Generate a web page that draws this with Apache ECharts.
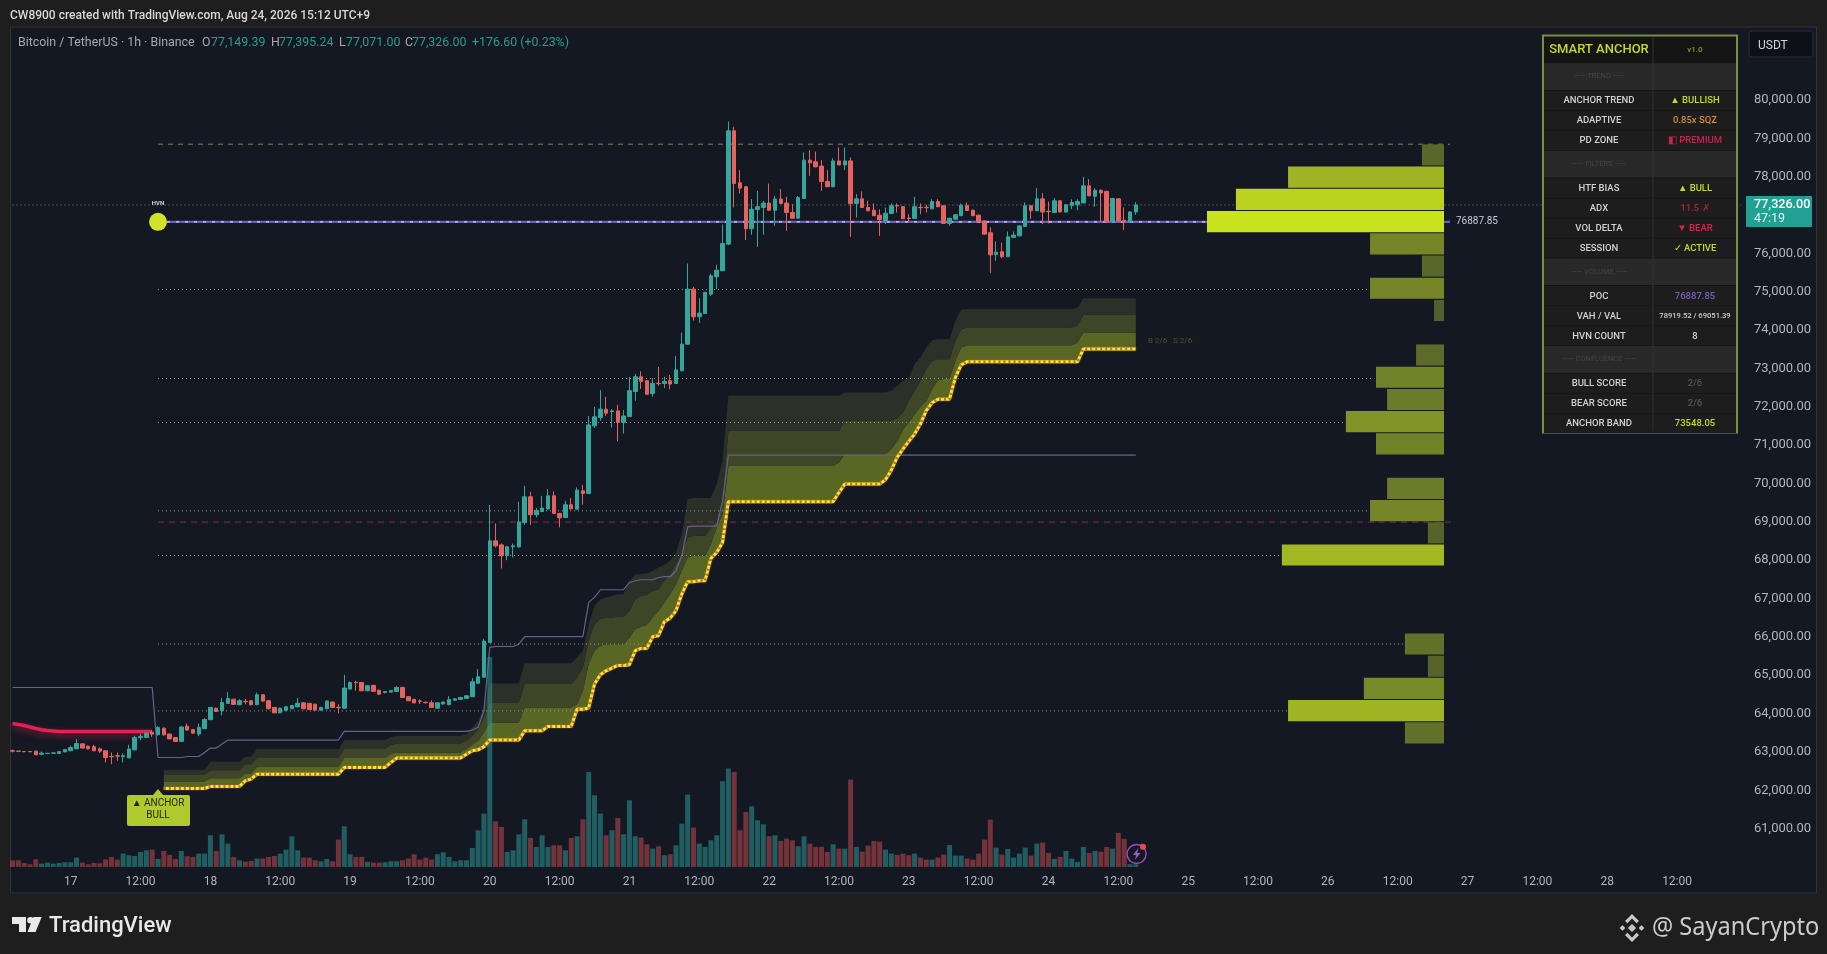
<!DOCTYPE html>
<html><head><meta charset="utf-8">
<style>html,body{margin:0;padding:0;background:#1e1e1e}#c{width:1827px;height:954px}</style>
<script src="https://cdn.jsdelivr.net/npm/echarts@6/dist/echarts.min.js"></script>
</head><body><div id="c"></div>
<script>
// hour index 0 = Aug 17 00:00; first candle is hour -10
const firstHour=-10, lastCategoryHour=287;
const dayLabels=['16','17','18','19','20','21','22','23','24','25','26','27','28'];
// [open, close, low, high]
const candles=[
[63030,63020,62985,63065],[63020,63015,63000,63030],[63010,63005,62995,63020],[63010,63005,62995,63020],[63020,62925,62925,63030],
[62940,62970,62915,63010],[62960,62965,62945,62975],[62965,62975,62955,62985],[62960,63010,62950,63020],[63000,63065,62990,63075],
[63030,63115,63020,63160],[63080,63220,63070,63335],[63210,63100,63090,63225],[63150,63080,63065,63165],[63135,63030,63020,63185],
[63080,63020,62975,63115],[63030,62855,62725,63045],[62885,62875,62680,62985],[62900,62890,62770,62985],[62875,62900,62725,62960],
[62845,63075,62835,63185],[63055,63375,63040,63420],[63370,63405,63305,63480],[63380,63490,63370,63510],[63510,63465,63395,63570],
[63450,63640,63430,63680],[63620,63445,63430,63640],[63465,63340,63330,63480],[63375,63275,63260,63390],[63275,63650,63260,63665],
[63670,63570,63555,63740],[63585,63490,63480,63600],[63465,63640,63410,63740],[63605,63845,63595,63880],[63840,64160,63830,64175],
[64140,64055,64040,64155],[64075,64290,63950,64405],[64265,64395,64255,64560],[64375,64240,64230,64385],[64230,64335,64220,64375],
[64320,64310,64245,64385],[64335,64230,64215,64345],[64230,64490,64220,64550],[64490,64325,64310,64500],[64335,64125,64110,64350],
[64160,64020,64005,64175],[64020,64140,64010,64155],[64090,64175,64055,64200],[64125,64210,64115,64225],[64175,64270,64165,64405],
[64280,64125,64110,64295],[64265,64105,64095,64280],[64245,64090,64080,64260],[64090,64160,64080,64175],[64125,64325,64115,64350],
[64300,64160,64150,64315],[64165,64155,64005,64245],[64140,64665,64130,65010],[64640,64810,64630,64840],[64815,64805,64595,64855],
[64810,64595,64585,64825],[64595,64725,64585,64740],[64735,64580,64570,64750],[64610,64505,64495,64620],[64550,64575,64530,64590],
[64560,64600,64550,64615],[64575,64680,64565,64720],[64680,64420,64410,64700],[64440,64335,64325,64450],[64370,64280,64270,64380],
[64330,64320,64250,64370],[64295,64285,64260,64310],[64280,64160,64150,64350],[64140,64280,64130,64295],[64250,64300,64235,64315],
[64230,64370,64220,64455],[64350,64385,64340,64400],[64370,64420,64360,64440],[64395,64465,64385,64480],[64440,64830,64430,64925],
[64790,64960,64780,65160],[64950,65890,64940,65950],[65855,68505,65855,69445],[68505,68375,68330,68960],[68400,68115,67785,68440],
[68115,68350,68000,68375],[68350,68375,68070,68435],[68350,69000,68330,69525],[68985,69655,68925,69940],[69655,69185,68925,69785],
[69185,69290,69115,69360],[69270,69360,69260,69680],[69335,69680,69325,69855],[69680,69220,69210,69795],[69220,69105,68855,69235],
[69115,69445,69105,69550],[69445,69340,69325,69620],[69330,69830,69320,69900],[69810,69740,69445,69965],[69740,71530,69730,71765],
[71505,71740,71450,72000],[71725,71940,71635,72435],[71940,71835,71765,72260],[71880,71895,71460,71940],[71895,71595,71100,72055],
[71595,71760,71305,71915],[71750,72420,71740,72785],[72400,72785,72160,72855],[72785,72665,72465,72925],[72680,72330,72320,72700],
[72350,72610,72265,72750],[72615,72605,72550,73045],[72610,72665,72490,72785],[72680,72595,72460,72830],[72610,72965,72600,73330],
[72940,73635,72930,73940],[73635,75070,73625,75740],[75070,74350,74250,75130],[74350,74445,74190,74835],[74435,74985,74425,75000],
[74940,75420,74895,75475],[75390,75565,75070,75705],[75550,76260,75540,76760],[76245,79200,76220,79440],[79200,77825,77200,79305],
[77845,77705,77565,78175],[77740,76645,76350,77760],[76645,77155,76490,77420],[77150,77220,76175,77635],[77200,77315,76490,77375],
[77315,77130,77115,77825],[77130,77420,76720,77505],[77420,77305,77295,77680],[77315,77070,76590,77480],[77070,76920,76910,77285],
[76920,77460,76910,77500],[77435,78435,77425,78635],[78435,78365,78025,78695],[78390,78260,78250,78660],[78280,77880,77635,78435],
[77880,77740,77730,78175],[77740,78415,77730,78485],[78415,78310,78300,78765],[78310,78415,78175,78765],[78415,77305,76435,78505],
[77305,77425,76940,77550],[77425,77200,77190,77620],[77200,77115,77105,77375],[77130,76985,76975,77305],[77000,76885,76460,77150],
[76850,77050,76765,77200],[77045,77245,77035,77305],[77250,77240,77070,77305],[77220,76905,76895,77235],[76925,76915,76850,77025],
[76915,77220,76905,77480],[77205,77195,77025,77305],[77205,77195,77070,77270],[77165,77355,77155,77415],[77355,77220,77210,77415],
[77245,76785,76775,77260],[76785,76920,76720,76930],[76895,77010,76885,77020],[76985,77260,76975,77305],[77245,77120,77110,77330],
[77130,76985,76975,77145],[77000,76835,76825,77015],[76850,76505,76495,76865],[76540,75965,75495,76680],[75975,76035,75810,76315],
[76045,75915,75880,76285],[75915,76435,75905,76575],[76420,76480,76410,76575],[76460,76720,76450,76735],[76705,77245,76695,77330],
[77245,77115,76895,77260],[77115,77425,77105,77705],[77425,77085,76765,77575],[77100,77090,76785,77355],[77070,77375,77060,77445],
[77375,77085,77075,77390],[77080,77270,77070,77285],[77250,77330,77155,77415],[77270,77355,77130,77415],[77320,77765,77310,78000],
[77765,77505,77495,77940],[77495,77650,77215,77705],[77650,77580,76835,77665],[77620,76825,76815,77640],[76825,77435,76815,77450],
[77425,76850,76840,77445],[76870,76820,76610,77200],[76820,77085,76810,77100],[77085,77265,77010,77335]];
const volumes=[20,20,12,8,23,10,13,10,12,14,
14,28,13,8,12,11,23,30,22,40,
35,33,45,50,52,24,48,36,24,48,
32,30,40,40,95,48,98,70,30,20,
16,18,25,25,30,33,40,52,92,50,
28,28,20,17,24,17,82,122,38,30,
30,15,13,13,14,17,17,20,25,38,
22,28,22,38,44,30,17,20,20,57,
110,160,630,137,120,45,50,98,143,87,
60,95,60,65,65,50,87,92,143,285,
215,160,95,110,147,98,200,92,88,68,
55,62,35,38,65,130,217,118,70,60,
80,95,257,295,285,110,165,182,140,128,
92,95,78,85,80,62,92,70,60,60,
45,68,55,55,262,60,46,64,78,76,
52,40,36,40,35,40,28,22,22,28,
37,66,34,34,25,22,40,82,142,58,
37,54,28,40,58,34,70,73,42,24,
30,48,25,15,60,42,48,46,60,55,
102,84,8,8];
// step lines: [start hour, value held until next step]
const anchorSteps=[[16,62045],[24,62100],[30,62245],[31,62290],[32,62420],[47,62595],[55,62720],[56,62840],[68,62940],[69,63030],[70,63055],[71,63135],[72,63310],[78,63550],[82,63665],[87,64115],[89,64145],[90,64770],[91,65010],[92,65115],[93,65185],[94,65255],[96,65275],[97,65640],[98,65700],[100,66005],[101,66030],[102,66395],[103,66490],[104,66680],[105,67115],[106,67440],[108,67465],[110,68045],[111,68200],[112,68465],[113,69525],[132,69765],[133,69985],[140,70100],[141,70350],[142,70680],[143,70900],[144,71100],[145,71290],[146,71550],[147,71900],[148,72105],[149,72200],[152,72765],[153,73095],[154,73175],[174,73510]];
const innerSteps=[[16,62230],[24,62315],[30,62440],[32,62620],[47,62840],[55,62950],[56,62985],[68,63075],[69,63185],[70,63290],[71,63510],[72,63770],[78,64160],[87,64245],[88,64595],[89,65290],[90,65640],[91,65770],[92,65810],[96,65985],[97,66205],[98,66265],[99,66315],[100,66505],[101,66680],[102,66900],[103,67115],[104,67375],[105,67725],[106,68070],[107,68115],[110,68420],[111,68855],[112,69200],[113,70460],[132,70550],[133,70765],[141,70900],[142,71100],[143,71400],[144,71600],[145,71800],[146,72000],[147,72150],[148,72460],[149,72695],[150,72725],[152,73200],[153,73550],[154,73610],[173,73680],[174,73940]];
const midSteps=[[16,62400],[24,62525],[30,62680],[32,62840],[47,63075],[55,63180],[56,63220],[68,63290],[69,63420],[70,63595],[71,63900],[72,64290],[78,64770],[87,64940],[88,65205],[89,65900],[90,66335],[91,66465],[92,66505],[94,66525],[96,66680],[97,66985],[98,67070],[99,67100],[100,67205],[101,67245],[102,67465],[103,67635],[104,67900],[105,68200],[106,68595],[107,68635],[110,68855],[111,69030],[112,69635],[113,71375],[133,71640],[142,71700],[143,71850],[144,72160],[145,72420],[146,72680],[147,72985],[148,73200],[149,73245],[152,73725],[153,74025],[154,74070],[173,74115],[174,74400]];
const outerSteps=[[16,62535],[24,62745],[30,62875],[32,63075],[47,63310],[55,63380],[56,63420],[68,63465],[69,63640],[70,63810],[71,64160],[72,64785],[78,65310],[87,65465],[88,65640],[89,66335],[90,66810],[91,66985],[92,67030],[93,67070],[94,67115],[96,67465],[97,67620],[98,67640],[99,67655],[100,67725],[101,67810],[102,67880],[103,67985],[104,68200],[105,68680],[106,69595],[107,69620],[111,69985],[112,70595],[113,72290],[133,72375],[141,72420],[142,72550],[143,72680],[144,72765],[145,73115],[146,73290],[147,73550],[148,73740],[149,73765],[152,74245],[153,74530],[154,74550],[173,74590],[174,74835]];
const purpleSteps=[[-10,64680],[15,62855],[20,62880],[23,62985],[24,63100],[26,63205],[27,63310],[47,63535],[69,63570],[70,63640],[71,64075],[72,65725],[73,65750],[77,65810],[78,66005],[89,66900],[90,67030],[91,67230],[96,67420],[97,67465],[98,67490],[101,67550],[102,67570],[104,67725],[105,68115],[106,68870],[107,68890],[112,69550],[113,70740]];
const redLineSteps=[[-10,63740],[-9,63715],[-8,63690],[-7,63650],[-6,63610],[-5,63580],[-4,63560],[-3,63545],[-2,63535],[-1,63530]];
const redLineEnd=14;
// levels: value, last hour drawn
const hvnLevels=[[75060,223],[72740,224],[71592,219],[69289,223],[68123,208],[65813,229],[64070,209]];
const vahLevel=[78852,237], valLevel=[68994,238], pocLevel=[76826,237];
const levelStart=15, lastPrice=77265, lastCandleHour=183;
// profile rows top to bottom, relative volume (POC = 100)
const profile=[9.3,65.8,87.8,100,31.2,9.3,31.2,4.2,null,11.8,28.7,24,41.4,28.7,null,24,31.2,6.8,68.4,null,null,null,16.5,6.8,33.8,65.8,16.5];
const priceAxisMin=60000, priceAxisMax=81000, volumeAxisMax=2415;

const panelRows=[
['SECTION','TREND'],['ANCHOR TREND','▲ BULLISH','#c4d92e'],['ADAPTIVE','0.85x SQZ','#d98c3a'],['PD ZONE','◧ PREMIUM','#c8234e'],
['SECTION','FILTERS'],['HTF BIAS','▲ BULL','#c4d92e'],['ADX','11.5 ✗','#a82342'],['VOL DELTA','▼ BEAR','#d8234e'],['SESSION','✓ ACTIVE','#c4d92e'],
['SECTION','VOLUME'],['POC','76887.85','#7560b8'],['VAH / VAL','78919.52 / 69051.39','#d0d0d0'],['HVN COUNT','8','#d0d0d0'],
['SECTION','CONFLUENCE'],['BULL SCORE','2/6','#555555'],['BEAR SCORE','2/6','#555555'],['ANCHOR BAND','73548.05','#c4d92e']];
const legendBits=[['Bitcoin / TetherUS · 1h · Binance',18,'#a6a9b2'],['O',202,'#a6a9b2'],['77,149.39',211,'#2b9c8e'],['H',271,'#a6a9b2'],['77,395.24',279,'#2b9c8e'],['L',339,'#a6a9b2'],['77,071.00',346,'#2b9c8e'],['C',405,'#a6a9b2'],['77,326.00',412,'#2b9c8e'],['+176.60 (+0.23%)',472,'#2b9c8e']];

const FONT='Roboto';
function expand(steps,end){const out=[];let k=0;
  for(let h=firstHour;h<=end;h++){
    if(h<steps[0][0]){out.push('-');continue;}
    while(k+1<steps.length&&steps[k+1][0]<=h)k++;
    out.push(steps[k][1]);}
  return out;}
const anchor=expand(anchorSteps,lastCandleHour),inner=expand(innerSteps,lastCandleHour),mid=expand(midSteps,lastCandleHour),outer=expand(outerSteps,lastCandleHour);
const diff=(a,b)=>a.map((v,i)=>v==='-'?'-':v-b[i]);
const purple=expand(purpleSteps,lastCandleHour), redLine=expand(redLineSteps,redLineEnd);
const cats=[];
for(let h=firstHour;h<=lastCategoryHour;h++){
  const d=Math.floor(h/24)+1, hh=((h%24)+24)%24;
  cats.push(dayLabels[d]+' '+String(hh).padStart(2,'0')+':00');}
const X=h=>h-firstHour;
function levelLine(lv,style,z){return {type:'line',data:[[X(levelStart),lv[0]],[X(lv[1]),lv[0]]],showSymbol:false,silent:true,lineStyle:style,z:z||2};}
const bandArea=(name,data,color)=>({type:'line',name,stack:'band',data,showSymbol:false,silent:true,lineStyle:{width:0},areaStyle:{color,opacity:1},z:1});

const series=[
 {type:'line',name:'base',stack:'band',data:anchor,showSymbol:false,silent:true,lineStyle:{width:0},z:1},
 bandArea('inner',diff(inner,anchor),'#5a6623'),
 bandArea('mid',diff(mid,inner),'#3e4627'),
 bandArea('outer',diff(outer,mid),'#2b3028'),
 {type:'line',name:'trail',data:purple,showSymbol:false,silent:true,lineStyle:{color:'#66628e',width:1.2},z:2},
 {type:'line',name:'ema',data:redLine,showSymbol:false,silent:true,lineStyle:{color:'#e8204f',width:3.5,shadowColor:'rgba(232,32,79,.55)',shadowBlur:7,shadowOffsetY:3},z:2},
 {type:'line',data:[[0,lastPrice],[cats.length-1,lastPrice]],showSymbol:false,silent:true,lineStyle:{color:'#828d92',width:1,type:[1,3]},z:2},
];
hvnLevels.forEach(l=>series.push(levelLine(l,{color:'#939a74',width:1,type:[1,3]})));
series.push(levelLine(vahLevel,{color:'#7e8a52',width:1,type:[5,5]}));
series.push(levelLine(valLevel,{color:'#8c2a48',width:1,type:[6,5]}));
series.push(levelLine(pocLevel,{color:'#6d5fb8',width:2.4},2));
series.push(levelLine([pocLevel[0],207],{color:'#d4d4de',width:1.4,type:[3,6]},3));
series.push({type:'bar',xAxisIndex:0,yAxisIndex:1,barWidth:5,z:3,silent:true,
  data:volumes.map((v,i)=>({value:v,itemStyle:{color:candles[i][1]>=candles[i][0]?'rgba(46,160,155,.52)':'rgba(226,80,85,.47)'}}))});
series.push({type:'candlestick',xAxisIndex:0,yAxisIndex:0,data:candles,barWidth:4,silent:true,z:4,
  itemStyle:{color:'#35a69c',color0:'#e5625f',borderColor:'#35a69c',borderColor0:'#e5625f',borderWidth:1}});
series.push({type:'line',name:'anchorLine',data:anchor,showSymbol:false,silent:true,lineStyle:{color:'#e8f034',width:3,shadowColor:'rgba(220,120,30,.6)',shadowBlur:2},z:5});
series.push({type:'line',name:'anchorDash',data:anchor,showSymbol:false,silent:true,lineStyle:{color:'#cf6a2a',width:3,type:[2,3]},z:5});
series.push({type:'scatter',data:[[X(levelStart),pocLevel[0]]],symbolSize:18,silent:true,itemStyle:{color:'#cfe22c',opacity:1},z:6});
series.push({type:'bar',xAxisIndex:1,yAxisIndex:2,barCategoryGap:'5%',silent:true,z:6,
  data:profile.map(v=>{if(v==null)return null;const t=v/100;const c=(a,b)=>Math.round(a+(b-a)*t);
    return {value:v,itemStyle:{color:`rgb(${c(79,201)},${c(90,228)},${c(44,31)})`}};})});

// graphic chrome
const g=[];
const T=(text,x,y,o)=>g.push(Object.assign({type:'text',x,y,z:o&&o.z||120,scaleX:o.sx||1,style:{text,fill:o.fill,font:`${o.w||400} ${o.s||12}px ${o.f||FONT}`,textAlign:o.a||'left',textVerticalAlign:'middle',textBaseline:'middle'}}));
const R=(x,y,w,h,fill,o)=>g.push({type:'rect',z:(o&&o.z)||110,shape:{x,y,width:w,height:h,r:(o&&o.r)||0},style:{fill,stroke:o&&o.stroke,lineWidth:o&&o.lw}});
const P=(pts,fill,z)=>g.push({type:'polygon',z:z||115,shape:{points:pts},style:{fill}});
R(10.5,27,1806,866,'#141823',{z:-10,stroke:'#2f3238',lw:1});
T('CW8900 created with TradingView.com, Aug 24, 2026 15:12 UTC+9',10,15.5,{fill:'#d8d8d8',s:12,w:500});
legendBits.forEach(b=>T(b[0],b[1],42.5,{fill:b[2],s:12.4}));
// USDT + price tag
R(1749,31,64,26,'#0e1017',{stroke:'#2a2e39',lw:1,r:3});
T('USDT',1758,45.5,{fill:'#d1d4dc',s:12});
R(1746,196,66,31,'#23a094',{r:1});
T('77,326.00',1754,204.5,{fill:'#fff',s:12.6,w:500});
T('47:19',1754,219,{fill:'#e6f5f3',s:12.5});
// POC label
T('76887.85',1456,221,{fill:'#c8c8de',s:10});
T('HVN',158,203,{fill:'#d0d0d0',s:6,a:'center',w:700,z:20});
// faint score box
R(1145,334,54,12,'#18191e',{z:8});
T('B 2/6   S 2/6',1170,340.5,{fill:'#4a4a40',s:8,a:'center',z:9});
// anchor label
P([[153,795],[158,789],[163,795]],'#b0ca2e',30);
R(127,795,63,31,'#b0ca2e',{r:2,z:30});
T('▲ ANCHOR',158,803.5,{fill:'#23260f',s:10,a:'center',z:31});
T('BULL',158,815,{fill:'#23260f',s:10,a:'center',z:31});
// lightning icon
g.push({type:'circle',z:30,shape:{cx:1136.6,cy:854,r:9.5},style:{fill:'#141823',stroke:'#9a50c4',lineWidth:1.4}});
P([[1138.5,848],[1133,855],[1136.3,855],[1134.8,860],[1140.5,853],[1137.2,853]],'#a35ad0',31);
g.push({type:'circle',z:32,shape:{cx:1143,cy:846.7,r:3},style:{fill:'#ee4a4a'}});
// panel
const px=1543,py=35.5,pw=194,ph=397,divX=1653;
R(px,py,pw,ph,'#141414',{stroke:'#7d8c3e',lw:2});
T('SMART ANCHOR',1599,50.2,{fill:'#c4d92e',s:13,w:500,a:'center'});
T('v1.0',1695,50,{fill:'#88982a',s:8,w:500,a:'center'});
let y=63.3;
panelRows.forEach(r=>{
  const sec=r[0]==='SECTION', h=sec?26.6:19.3;
  R(px+1,y,pw-2,h,sec?'#292929':'#1d1d1d');
  if(sec){T('—— '+r[1]+' ——',1599,y+h/2,{fill:'#454545',s:7.5,a:'center'});}
  else{T(r[0],1599,y+h/2+.4,{fill:'#d2d2d2',s:9.5,w:500,a:'center'});
    T(r[1],1695,y+h/2+.4,{fill:r[2],s:r[0]==='VAH / VAL'?7.6:9.5,w:500,a:'center'});}
  y+=h+(sec?1:0.7);
});
g.push({type:'line',z:112,shape:{x1:divX,y1:37,x2:divX,y2:431},style:{stroke:'#333',lineWidth:1}});
// footer
P([[12,917],[26,917],[26,932],[19,932],[19,924],[12,924]],'#e8e8e8');
g.push({type:'circle',z:115,shape:{cx:30.5,cy:920.3,r:3.3},style:{fill:'#e8e8e8'}});
P([[33.5,917],[41.7,917],[35.5,932],[27.5,932]],'#e8e8e8');
T('TradingView',49,926,{fill:'#e8e8e8',s:22,w:500});
const bn='#c8c8c8',d=(cx,cy,r)=>P([[cx,cy-r],[cx+r,cy],[cx,cy+r],[cx-r,cy]],bn);
d(1632,928,4);d(1622.5,928,2.8);d(1641.5,928,2.8);
P([[1632,914],[1639,921],[1636.6,923.2],[1632,918.6],[1627.4,923.2],[1625,921]],bn);
P([[1632,942],[1639,935],[1636.6,932.8],[1632,937.4],[1627.4,932.8],[1625,935]],bn);
T('@ SayanCrypto',1652,928,{fill:'#cccccc',s:25.5,f:'"Noto Sans"',sx:0.925});

const chart=echarts.init(document.getElementById('c'),null,{renderer:'canvas'});
chart.setOption({
 animation:false,backgroundColor:'#1e1e1e',
 grid:[{left:9.6,width:1734.4,top:61.8,height:805.14,containLabel:false},{left:1207,width:237,top:143.8,height:600.2}],
 xAxis:[
  {type:'category',gridIndex:0,data:cats,boundaryGap:true,axisLine:{show:false},axisTick:{show:false},splitLine:{show:false},
   axisLabel:{color:'#b2b5be',fontFamily:FONT,fontSize:12,margin:9.5,hideOverlap:false,
     interval:(i,v)=>/ (00|12):00$/.test(v),
     formatter:v=>v.endsWith('00:00')?v.slice(0,2):'12:00'}},
  {type:'value',gridIndex:1,inverse:true,min:0,max:100,show:false}],
 yAxis:[
  {type:'value',gridIndex:0,position:'right',min:priceAxisMin,max:priceAxisMax,interval:1000,axisLine:{show:false},axisTick:{show:false},splitLine:{show:false},
   axisLabel:{color:'#b2b5be',fontFamily:FONT,fontSize:13,margin:10,padding:[2,0,0,0],
     formatter:v=>v===priceAxisMin||v===priceAxisMax?'':v.toLocaleString('en-US',{minimumFractionDigits:2,maximumFractionDigits:2})}},
  {type:'value',gridIndex:0,min:0,max:volumeAxisMax,show:false},
  {type:'category',gridIndex:1,inverse:true,data:profile.map((_,i)=>'row'+i),show:false}],
 series,
 graphic:{elements:g}
});
</script></body></html>
